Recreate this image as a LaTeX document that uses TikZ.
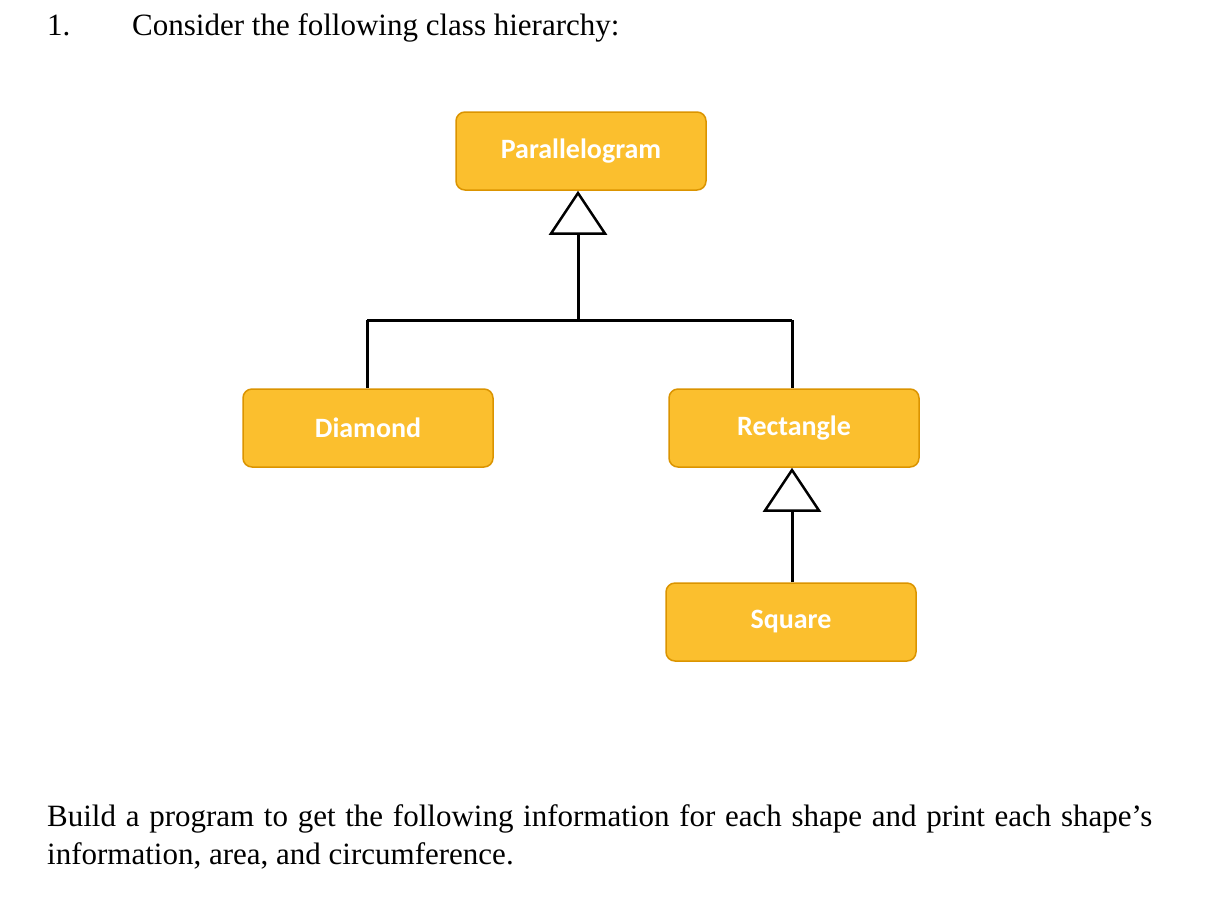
\documentclass[tikz,border=0pt]{standalone}
\usepackage{fontspec}
\setmainfont{Liberation Serif}
\newfontfamily\boxfont{Carlito}
\usetikzlibrary{arrows.meta}
\begin{document}
\begin{tikzpicture}[x=1pt,y=-1pt,
  cls/.style={draw=black!20!orange!70!yellow, fill={rgb,255:red,251;green,191;blue,46}, line width=1.5pt, rounded corners=9pt, minimum width=250pt, minimum height=78pt, text=white, font=\boxfont\bfseries\fontsize{28}{32}\selectfont},
  link/.style={line width=3pt, black},
  inh/.style={link, -{Triangle[open, length=44pt, width=58pt, line width=2.5pt]}},
  txt/.style={font=\fontsize{31}{38}\selectfont, inner sep=0pt, anchor=base west}]
\useasboundingbox (0,0) rectangle (1228,922);
\node[txt] (num) at (47,35) {1.};
\node[txt] (title) at (132,35) {Consider the following class hierarchy:};
\node[cls] (par) at (581,151) {Parallelogram};
\node[cls] (dia) at (368,428) {Diamond};
\node[cls] (rec) at (794,428) {Rectangle};
\node[cls] (sq) at (791,622) {Square};
\coordinate (hub) at (578,320);
\coordinate (hl) at (367,320);
\coordinate (hr) at (792,320);
\draw[link] (hl) -- (hr);
\draw[link] (hl) -- (hl |- dia.north);
\draw[link] (hr) -- (hr |- rec.north);
\draw[inh] (hub) -- (hub |- par.south);
\draw[inh] (sq.north -| hr) -- (hr |- rec.south);
\node[txt, anchor=north west, text width=1105pt, align=justify] (body) at (47,804) {Build a program to get the following information for each shape and print each shape's information, area, and circumference.};
\end{tikzpicture}
\end{document}
